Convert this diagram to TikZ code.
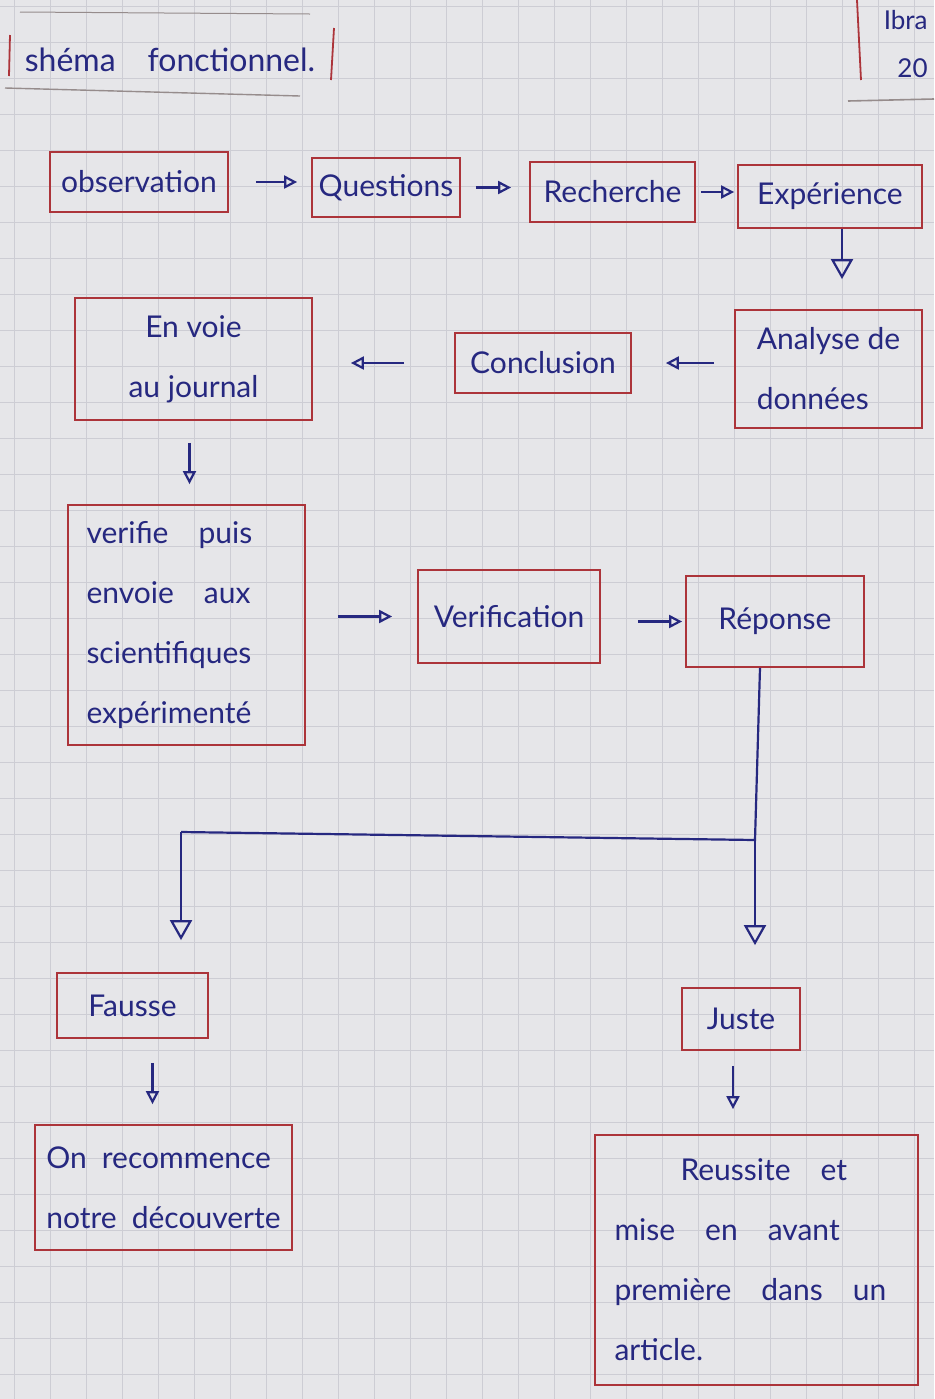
\documentclass[tikz,border=0pt]{standalone}
\usepackage{fontspec}
\setmainfont{Lato}
\usetikzlibrary{arrows.meta,calc}
\definecolor{paper}{RGB}{230,230,233}
\definecolor{gridc}{RGB}{205,205,212}
\definecolor{redbox}{RGB}{172,52,58}
\definecolor{ink}{RGB}{38,40,128}
\definecolor{pencil}{RGB}{150,140,140}
\begin{document}
\begin{tikzpicture}[x=0.5pt,y=-0.5pt,
  box/.style={draw=redbox,line width=0.9pt,rectangle,inner sep=0pt,text=ink,
    font=\fontsize{15}{30}\selectfont},
  flow/.style={draw=ink,line width=1.1pt,-{Triangle[open,length=6.5pt,width=6.5pt]}},
  bigflow/.style={draw=ink,line width=1.1pt,-{Triangle[open,length=10pt,width=11pt]}},
  lbl/.style={text=ink,inner sep=0pt,font=\fontsize{16}{18}\selectfont}]
% paper and grid
\fill[paper] (0,0) rectangle (934,1399);
\useasboundingbox (0,0) rectangle (934,1399);
\foreach \i in {0,...,26} \draw[gridc,line width=0.4pt] (\i*36+14,0) -- (\i*36+14,1399);
\foreach \j in {0,...,39} \draw[gridc,line width=0.4pt] (0,\j*36+6) -- (934,\j*36+6);
% title
\node[lbl] (title) at (170,60) {shéma\quad fonctionnel.};
\draw[redbox,line width=0.9pt] (10,35) -- (9,76);
\draw[redbox,line width=0.9pt] (334,28) -- (331,80);
\draw[pencil,line width=0.7pt] (5,88) -- (300,96);
\draw[pencil,line width=0.5pt] (20,12) -- (310,14);
% top right corner
\draw[redbox,line width=0.9pt] (857,0) -- (861,80);
\draw[pencil,line width=0.8pt] (848,101) -- (934,99);
\node[lbl,anchor=east,font=\fontsize{13}{15}\selectfont] (name) at (928,20) {Ibra};
\node[lbl,anchor=east,font=\fontsize{13}{15}\selectfont] (date) at (928,68) {20};
% boxes
\node[box,minimum width=89pt,minimum height=30pt] (obs) at (139,182) {observation};
\node[box,minimum width=74pt,minimum height=29.5pt] (ques) at (386,187.5) {Questions};
\node[box,minimum width=82.5pt,minimum height=30pt] (rech) at (612.5,192) {Recherche};
\node[box,minimum width=92pt,minimum height=31.5pt] (exp) at (830,196.5) {Expérience};
\node[box,minimum width=93.5pt,minimum height=59pt,align=left] (ana) at (828.5,369) {Analyse de\\données};
\node[box,minimum width=88pt,minimum height=30pt] (conc) at (543,363) {Conclusion};
\node[box,minimum width=118.5pt,minimum height=61pt,align=center] (env) at (193.5,359) {En voie\\au journal};
\node[box,minimum width=118.5pt,minimum height=120pt,text width=100pt,align=left] (ver) at (186.5,625) {verifie\quad puis\\envoie\quad aux\\scientifiques\\expérimenté};
\node[box,minimum width=91pt,minimum height=46.5pt] (verif) at (509,616.5) {Verification};
\node[box,minimum width=89pt,minimum height=45.5pt] (rep) at (775,621.5) {Réponse};
\node[box,minimum width=75.5pt,minimum height=32.5pt] (fau) at (132.5,1005.5) {Fausse};
\node[box,minimum width=59pt,minimum height=31pt] (jus) at (741,1019) {Juste};
\node[box,minimum width=128.5pt,minimum height=62.5pt,align=left] (rec) at (163.5,1187.5) {On\enspace recommence\\notre\enspace découverte};
\node[box,minimum width=161.5pt,minimum height=125pt,text width=142pt,align=left] (reu) at (756.5,1260) {\hspace*{2.2em}Reussite\quad et\\mise\quad en\quad avant\\première\quad dans\quad un\\article.};
% connectors
\draw[flow,shorten <=13.5pt,shorten >=7pt] (obs.east) -- (obs.east -| ques.west);
\draw[flow,shorten <=7.5pt,shorten >=9pt] (ques.east) -- (ques.east -| rech.west);
\draw[flow,shorten <=2.5pt,shorten >=1.5pt] (rech.east) -- (rech.east -| exp.west);
\draw[bigflow,shorten >=15pt] ([xshift=6pt]exp.south) -- ([xshift=6pt]exp.south |- ana.north);
\draw[flow,shorten <=10pt,shorten >=17pt] (ana.west |- conc.east) -- (conc.east);
\draw[flow,shorten <=25pt,shorten >=19pt] (conc.west) -- (conc.west -| env.east);
\draw[flow,shorten <=11pt,shorten >=10pt] ([xshift=-2pt]env.south) -- ([xshift=-2pt]env.south |- ver.north);
\draw[flow,shorten <=16pt,shorten >=12.5pt] (ver.east |- verif.west) -- (verif.west);
\draw[flow,shorten <=18.5pt,shorten >=1.5pt] (verif.east |- rep.west) -- (rep.west);
\coordinate (junc) at (755,840);
\coordinate (lturn) at (181,832);
\draw[draw=ink,line width=1.1pt] ([xshift=-7.5pt]rep.south) -- (junc) -- (lturn);
\draw[bigflow,shorten >=16pt] (lturn) -- (lturn |- fau.north);
\draw[bigflow,shorten >=21pt] (junc) -- (junc |- jus.north);
\draw[flow,shorten <=12pt,shorten >=10pt] ([xshift=10pt]fau.south) -- ([xshift=10pt]fau.south |- rec.north);
\draw[flow,shorten <=7.5pt,shorten >=12.5pt] ([xshift=-4pt]jus.south) -- ([xshift=-4pt]jus.south |- reu.north);
\end{tikzpicture}
\end{document}
